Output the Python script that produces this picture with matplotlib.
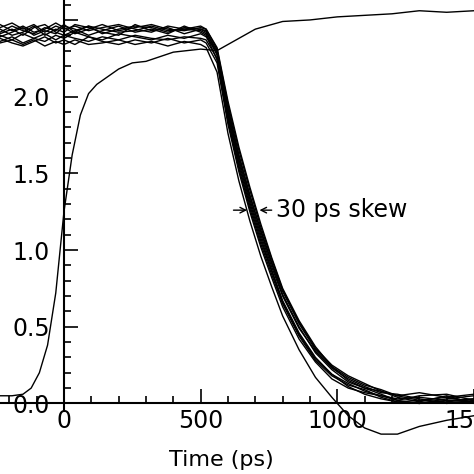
import matplotlib.pyplot as plt
from matplotlib.ticker import MultipleLocator, FixedLocator

# shared time grid for the falling outputs (ps)
t_fall = [-234, -190, -150, -110, -70, -30, 0, 40, 90, 140, 200, 260, 320, 380, 440, 500,
          520, 560, 600, 640, 680, 720, 760, 800, 860, 920, 980, 1040, 1100, 1160, 1220, 1300, 1400, 1500]

fall_curves = [
    [2.45, 2.48, 2.44, 2.47, 2.42, 2.46, 2.44, 2.46, 2.43, 2.45, 2.47, 2.44, 2.42, 2.46, 2.44, 2.43,
     2.41, 2.27, 1.88, 1.57, 1.31, 1.08, 0.87, 0.67, 0.46, 0.30, 0.19, 0.13, 0.08, 0.05, 0.03, 0.04, 0.02, 0.03],
    [2.41, 2.44, 2.40, 2.45, 2.47, 2.42, 2.40, 2.43, 2.46, 2.41, 2.44, 2.46, 2.45, 2.42, 2.45, 2.44,
     2.42, 2.30, 1.93, 1.62, 1.36, 1.12, 0.91, 0.71, 0.50, 0.33, 0.22, 0.14, 0.10, 0.06, 0.02, 0.05, 0.06, 0.02],
    [2.47, 2.43, 2.46, 2.42, 2.44, 2.48, 2.45, 2.41, 2.44, 2.47, 2.43, 2.45, 2.47, 2.44, 2.43, 2.45,
     2.44, 2.32, 1.97, 1.67, 1.41, 1.17, 0.95, 0.75, 0.54, 0.37, 0.24, 0.17, 0.12, 0.09, 0.05, 0.02, 0.04, 0.06],
    [2.39, 2.42, 2.45, 2.40, 2.43, 2.41, 2.46, 2.44, 2.40, 2.43, 2.46, 2.42, 2.44, 2.41, 2.46, 2.42,
     2.40, 2.24, 1.84, 1.53, 1.27, 1.04, 0.84, 0.65, 0.44, 0.28, 0.18, 0.12, 0.09, 0.04, 0.01, 0.0, 0.03, 0.05],
    [2.44, 2.40, 2.42, 2.46, 2.40, 2.44, 2.42, 2.47, 2.45, 2.42, 2.40, 2.47, 2.43, 2.45, 2.41, 2.44,
     2.43, 2.28, 1.90, 1.59, 1.33, 1.10, 0.89, 0.70, 0.49, 0.34, 0.23, 0.16, 0.11, 0.07, 0.06, 0.03, 0.0, 0.02],
    [2.42, 2.46, 2.43, 2.41, 2.45, 2.43, 2.47, 2.42, 2.46, 2.44, 2.42, 2.43, 2.46, 2.43, 2.44, 2.46,
     2.44, 2.31, 1.95, 1.65, 1.39, 1.15, 0.94, 0.74, 0.53, 0.36, 0.25, 0.18, 0.13, 0.08, 0.05, 0.07, 0.04, 0.01],
    [2.36, 2.39, 2.35, 2.38, 2.41, 2.37, 2.40, 2.38, 2.36, 2.39, 2.37, 2.40, 2.38, 2.37, 2.39, 2.38,
     2.37, 2.25, 1.86, 1.55, 1.29, 1.06, 0.86, 0.66, 0.45, 0.29, 0.19, 0.11, 0.06, 0.03, 0.01, 0.02, 0.01, 0.03],
    [2.40, 2.37, 2.41, 2.38, 2.36, 2.40, 2.38, 2.42, 2.39, 2.37, 2.41, 2.39, 2.37, 2.40, 2.38, 2.41,
     2.39, 2.29, 1.91, 1.61, 1.35, 1.13, 0.92, 0.73, 0.52, 0.35, 0.24, 0.15, 0.10, 0.08, 0.04, 0.01, 0.05, 0.0],
    [2.38, 2.35, 2.33, 2.36, 2.39, 2.35, 2.37, 2.34, 2.39, 2.36, 2.34, 2.37, 2.35, 2.38, 2.35, 2.37,
     2.35, 2.22, 1.82, 1.51, 1.25, 1.02, 0.82, 0.63, 0.42, 0.27, 0.16, 0.10, 0.07, 0.05, 0.02, 0.0, 0.02, 0.01],
    [2.35, 2.37, 2.34, 2.37, 2.33, 2.36, 2.34, 2.37, 2.34, 2.35, 2.37, 2.34, 2.36, 2.33, 2.36, 2.34,
     2.32, 2.16, 1.76, 1.45, 1.19, 0.96, 0.76, 0.57, 0.35, 0.17, 0.04, -0.08, -0.16, -0.20, -0.20, -0.15, -0.11, -0.08],
]

# input waveform (rising, then settling high)
t_in = [-234, -190, -150, -120, -90, -60, -30, 0, 30, 60, 90, 120, 160, 200, 250, 300, 350, 400,
        450, 500, 560, 620, 700, 800, 900, 1000, 1100, 1200, 1300, 1400, 1500]
v_in = [0.05, 0.05, 0.06, 0.10, 0.20, 0.38, 0.72, 1.25, 1.62, 1.88, 2.02, 2.08, 2.13, 2.18, 2.22, 2.23,
        2.26, 2.29, 2.30, 2.31, 2.30, 2.36, 2.44, 2.49, 2.50, 2.52, 2.53, 2.54, 2.56, 2.55, 2.56]

y_major = [0.0, 0.5, 1.0, 1.5, 2.0, 2.5]
y_minor = [i / 10 for i in range(0, 27)]

fig = plt.figure(figsize=(4.74, 4.74), dpi=100)
ax = fig.add_axes([0, 0, 1, 1])

for v in fall_curves:
    ax.plot(t_fall, v, color="black", linewidth=1.0)
ax.plot(t_in, v_in, color="black", linewidth=1.0)

ax.set_xlim(-234, 1500)
ax.set_ylim(-0.46, 2.63)

ax.spines["left"].set_position(("data", 0))
ax.spines["bottom"].set_position(("data", 0))
ax.spines["left"].set_bounds(-0.05, 2.63)
ax.spines["right"].set_visible(False)
ax.spines["top"].set_visible(False)
for s in ("left", "bottom"):
    ax.spines[s].set_linewidth(1.5)

ax.xaxis.set_major_locator(MultipleLocator(500))
ax.xaxis.set_minor_locator(MultipleLocator(100))
ax.yaxis.set_major_locator(FixedLocator(y_major))
ax.yaxis.set_minor_locator(FixedLocator(y_minor))
ax.tick_params(which="both", direction="in", labelsize=17, width=1.2)
ax.tick_params(which="major", length=10)
ax.tick_params(which="minor", length=5)
ax.tick_params(axis="x", pad=4)
ax.tick_params(axis="y", pad=10)
ax.yaxis.set_major_formatter(lambda v, p: f"{v:.1f}" if v < 2.4 else "")

ax.text(575, -0.37, "Time (ps)", fontsize=16, ha="center", va="center")

ax.annotate("", xy=(680, 1.26), xytext=(610, 1.26),
            arrowprops=dict(arrowstyle="->", color="black", lw=1.0))
ax.annotate("", xy=(705, 1.26), xytext=(770, 1.26),
            arrowprops=dict(arrowstyle="->", color="black", lw=1.0))
ax.text(775, 1.26, "30 ps skew", fontsize=17, ha="left", va="center")

fig.savefig("out.png", dpi=100)
